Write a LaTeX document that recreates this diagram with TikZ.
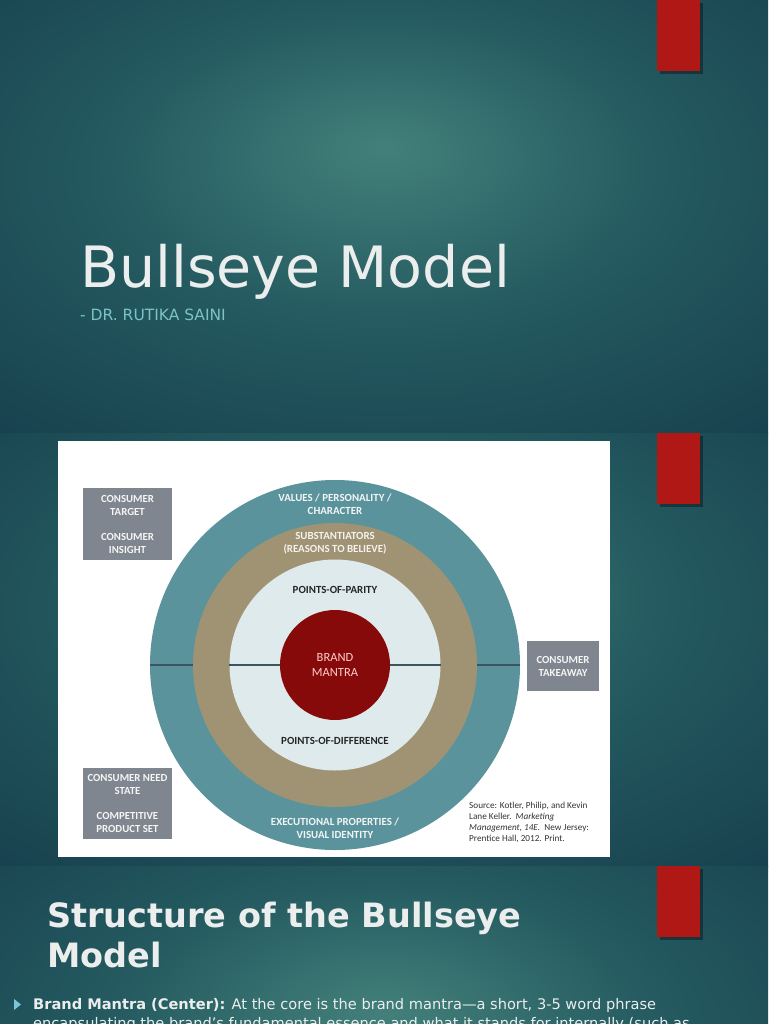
\documentclass[tikz,border=0pt]{standalone}
\usepackage{fontspec}
\setmainfont{DejaVu Sans}
\newfontfamily\chartfont{Carlito}
\usetikzlibrary{positioning}
\tikzset{every node/.append style={align=center}}
\definecolor{slidedark}{HTML}{133848}
\definecolor{slidemid}{HTML}{245A60}
\definecolor{slidelight}{HTML}{43807A}
\definecolor{accentred}{HTML}{B01816}
\definecolor{subtitleteal}{HTML}{7CC3C6}
\definecolor{headwhite}{HTML}{ECEEEE}
\definecolor{ringteal}{HTML}{5A939B}
\definecolor{ringtan}{HTML}{A09373}
\definecolor{coreblue}{HTML}{DFEAEC}
\definecolor{mantrared}{HTML}{870A0A}
\definecolor{boxgray}{HTML}{80868F}
\definecolor{divider}{HTML}{3A5560}
\definecolor{bulletblue}{HTML}{7EC3D8}
\pgfdeclareradialshading{slideglow}{\pgfpoint{0bp}{8bp}}{color(0bp)=(slidelight); color(18bp)=(slidemid); color(45bp)=(slidedark); color(60bp)=(slidedark)}

\begin{document}
\begin{tikzpicture}[x=1pt, y=-1pt, every node/.style={font=\small, align=center, inner sep=0pt},
  sidebox/.style={fill=boxgray, text=white!92!boxgray, font=\chartfont\bfseries\fontsize{10.8}{13}\selectfont},
  ringlabel/.style={font=\chartfont\bfseries\fontsize{10.9}{13.5}\selectfont}]
  \useasboundingbox (0,0) rectangle (768,1024);
  % slides
  \foreach \top in {0,433,866} {
    \shade[shading=slideglow] (0,\top) rectangle (768,\top+433);
    \fill[black, opacity=0.35] (660,\top+3) rectangle (703,\top+74);
    \fill[accentred] (657,\top) rectangle (700,\top+71);
  }
  \node[anchor=base west, text=headwhite, font=\fontsize{57}{60}\selectfont] (title) at (80,287) {Bullseye Model};
  \node[anchor=base west, text=subtitleteal, font=\fontsize{15.5}{18}\selectfont] (author) at (80,320) {- DR. RUTIKA SAINI};
  % bullseye figure
  \node[fill=white, anchor=north west, minimum width=552pt, minimum height=416pt] (panel) at (58,441) {};
  \node[circle, fill=ringteal, minimum size=370pt] (outer) at (335,665) {};
  \node[circle, fill=ringtan, minimum size=284pt] (tan) at (outer.center) {};
  \node[circle, fill=coreblue, minimum size=211pt] (core) at (outer.center) {};
  \draw[divider, line width=1.3pt] (outer.west) -- (tan.west) (core.west) -- (core.east) (tan.east) -- (outer.east);
  \node[circle, fill=mantrared, minimum size=110pt, text=red!20!white, font=\chartfont\fontsize{12.5}{15}\selectfont] (mantra) at (outer.center) {BRAND\\MANTRA};
  \node[ringlabel, text=white!92!ringteal] (values) at (335,504) {VALUES / PERSONALITY /\\CHARACTER};
  \node[ringlabel, text=white!88!ringtan] (proof) at (335,543) {SUBSTANTIATORS\\(REASONS TO BELIEVE)};
  \node[ringlabel, text=black!85] (parity) at (335,590) {POINTS-OF-PARITY};
  \node[ringlabel, text=black!85] (difference) at (335,741) {POINTS-OF-DIFFERENCE};
  \node[ringlabel, text=white!92!ringteal] (execution) at (335,828) {EXECUTIONAL PROPERTIES /\\VISUAL IDENTITY};
  \node[sidebox, minimum width=89pt, minimum height=72pt] (target) at (127.5,524) {CONSUMER\\TARGET\\[12pt]CONSUMER\\INSIGHT};
  \node[sidebox, minimum width=72pt, minimum height=50pt] (takeaway) at (563,666) {CONSUMER\\TAKEAWAY};
  \node[sidebox, minimum width=89pt, minimum height=71pt] (needs) at (127.5,803.5) {CONSUMER NEED\\STATE\\[12pt]COMPETITIVE\\PRODUCT SET};
  \node[anchor=north west, align=left, text=black!80, font=\chartfont\fontsize{9.2}{11}\selectfont] (source) at (469,802) {Source: Kotler, Philip, and Kevin\\Lane Keller.\ \ \textit{Marketing}\\\textit{Management, 14E.}\ \ New Jersey:\\Prentice Hall, 2012. Print.};
  % third slide
  \node[anchor=north west, align=left, text=headwhite, font=\bfseries\fontsize{33.5}{40}\selectfont] (heading) at (47,902) {Structure of the Bullseye\\Model};
  \fill[bulletblue] (14,999) -- (21,1004.5) -- (14,1010) -- cycle;
  \node[anchor=north west, align=left, text=headwhite, font=\fontsize{14.6}{19}\selectfont] (mantrapoint) at (33,998) {\textbf{Brand Mantra (Center):} At the core is the brand mantra---a short, 3-5 word phrase\\encapsulating the brand's fundamental essence and what it stands for internally (such as};
\end{tikzpicture}
\end{document}
